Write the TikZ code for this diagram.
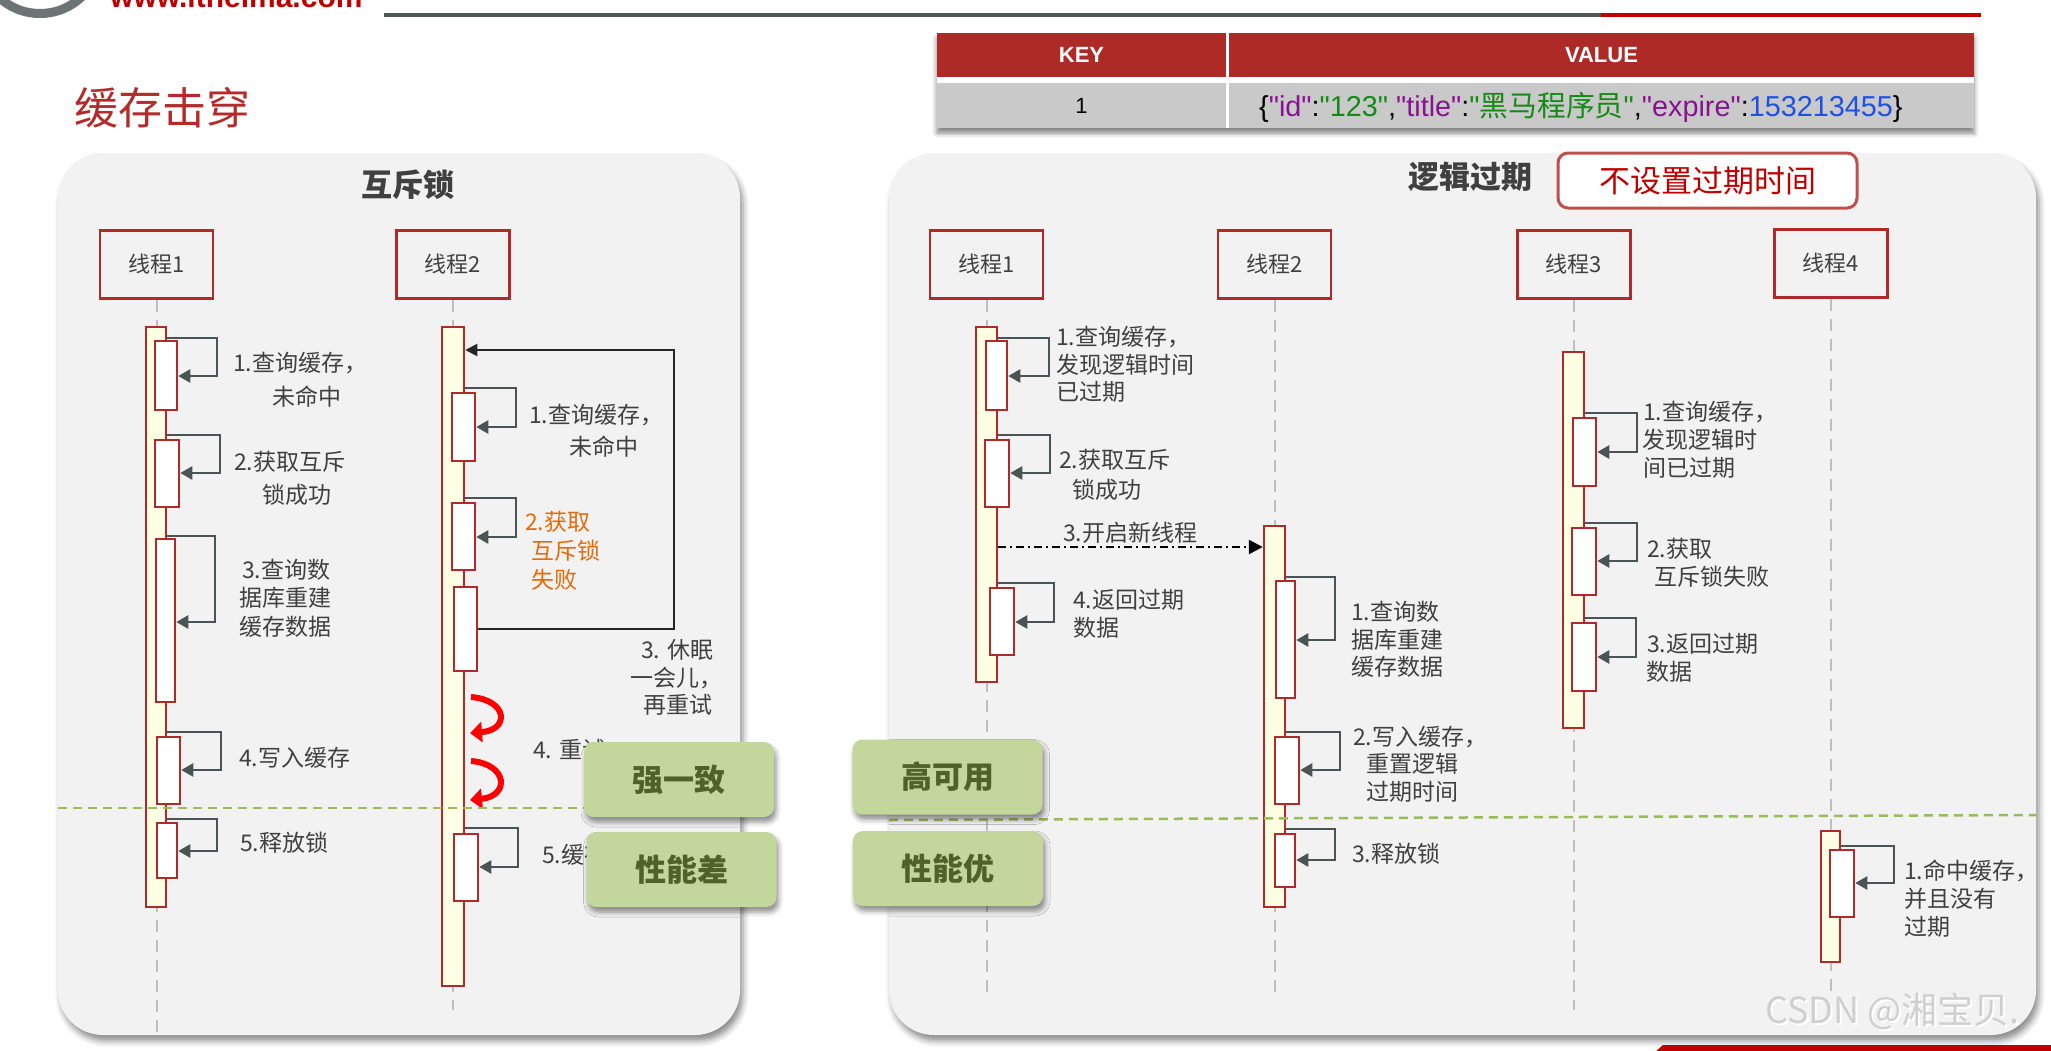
\documentclass[tikz,border=0pt]{standalone}
\usepackage{fontspec}
\setmainfont{Liberation Sans}
\newfontfamily\jsfont{Liberation Sans}[Ligatures=TeXOff]
\newfontfamily\cjk{Noto Sans CJK SC}
\usetikzlibrary{arrows.meta,fit,shadows.blur}
\definecolor{panelbg}{HTML}{F2F2F2}
\definecolor{redb}{HTML}{B02A2A}
\definecolor{actfill}{HTML}{FFFFE3}
\definecolor{arrgray}{HTML}{4A5455}
\definecolor{txt}{HTML}{404040}
\definecolor{lifegray}{HTML}{BFBFBF}
\definecolor{gdash}{HTML}{9BBB59}
\definecolor{gfill}{HTML}{C3D69B}
\definecolor{gtext}{HTML}{4F6228}
\definecolor{orangetxt}{HTML}{E36C09}
\definecolor{titlered}{HTML}{B32B2B}
\definecolor{hdrred}{HTML}{AD2A27}
\definecolor{rowgray}{HTML}{C9C9C9}
\definecolor{jpurple}{HTML}{881391}
\definecolor{jgreen}{HTML}{168A16}
\definecolor{jblue}{HTML}{1F50E6}
\definecolor{darkred}{HTML}{C00000}
\definecolor{boxred}{HTML}{C0504D}
\definecolor{linegray}{HTML}{505654}
\definecolor{logogray}{HTML}{6E7373}
\definecolor{wmgray}{HTML}{CFCFCF}
\tikzset{
 lbl/.style={inner sep=0pt, anchor=west, text=txt, font=\cjk\fontsize{23}{28}\selectfont},
 olbl/.style={lbl, text=orangetxt},
 actor/.style={draw=redb, line width=2.5pt, minimum width=113pt, minimum height=68pt, inner sep=0pt, text=txt, font=\cjk\fontsize{22}{26}\selectfont},
 actbar/.style={draw=redb, fill=actfill, line width=2.5pt, inner sep=0pt},
 wbox/.style={draw=redb, fill=white, line width=2.5pt, inner sep=0pt},
 lifeline/.style={draw=lifegray, line width=2pt, dash pattern=on 12pt off 8pt},
 loopar/.style={draw=arrgray, line width=2.5pt, -{Triangle[length=12pt,width=13pt]}},
 fbar/.style={draw=black!85, line width=2pt, -{Triangle[length=12pt,width=12pt]}},
 dasharr/.style={draw=black, line width=2.5pt, dash pattern=on 8pt off 4pt on 2pt off 4pt, -{Triangle[length=14pt,width=14pt]}},
 gdashline/.style={draw=gdash, line width=2.5pt, dash pattern=on 9pt off 6pt},
 gbox/.style={fill=gfill, rounded corners=10pt, minimum width=190pt, minimum height=75pt, blur shadow={shadow xshift=2pt, shadow yshift=-5pt, shadow blur radius=5pt, shadow opacity=45}, text=gtext, font=\cjk\bfseries\fontsize{31}{36}\selectfont, inner sep=0pt},
 panel/.style={fill=panelbg, rounded corners=45pt, inner sep=0pt, blur shadow={shadow xshift=3pt, shadow yshift=-6pt, shadow blur radius=6pt, shadow opacity=45}},
 redarr/.style={draw=red, line width=6pt, -{Triangle[length=12pt,width=20pt]}},
 hdr/.style={fill=hdrred, inner sep=0pt, minimum height=44pt, text=white, font=\bfseries\fontsize{22}{22}\selectfont},
 rowc/.style={fill=rowgray, inner sep=0pt, minimum height=45pt, text=black, font=\fontsize{22}{22}\selectfont},
 ptitle/.style={inner sep=0pt, text=txt, font=\cjk\bfseries\fontsize{31}{31}\selectfont},
}
\newcommand{\mylab}[4]{\node[lbl] (#1) at (#2,#3) {#4};}
\newcommand{\myolab}[4]{\node[olbl] (#1) at (#2,#3) {#4};}
\newcommand{\mybar}[5]{\node[actbar, fit={(#2,#3) (#4,#5)}] (#1) {};}
\newcommand{\mywb}[5]{\node[wbox, fit={(#2,#3) (#4,#5)}] (#1) {};}
\newcommand{\myloop}[5]{\draw[loopar] (#1.east |- 0,#3) -| (#4,#5) -- (#2.east |- 0,#5);}
\begin{document}
\begin{tikzpicture}[x=1pt,y=-1pt]
\useasboundingbox (0,0) rectangle (2051,1050);
% page header
\draw[logogray, line width=9pt] (40,-47) circle (60.5);
\node[anchor=base west, inner sep=0pt, text=darkred, font=\bfseries\fontsize{30}{30}\selectfont] (site) at (110,7) {www.itheima.com};
\draw[linegray, line width=4pt] (384,15) -- (1601,15);
\draw[darkred, line width=4pt] (1601,15) -- (1981,15);
\fill[darkred] (1655,1052) -- (1663,1045) -- (2051,1045) -- (2051,1052) -- cycle;
% table
\node[fill=white, inner sep=0pt, fit={(937,33) (1974,128)}, blur shadow={shadow xshift=0pt, shadow yshift=-5pt, shadow blur radius=5pt, shadow opacity=50}] (tbl) {};
\node[hdr, minimum width=289pt] (kh) at (1081.5,55) {KEY};
\node[hdr, minimum width=745pt] (vh) at (1601.5,55) {VALUE};
\node[rowc, minimum width=289pt] (kc) at (1081.5,105.5) {1};
\node[rowc, minimum width=745pt] (vc) at (1601.5,105.5) {};
\node[anchor=west, inner sep=0pt, font=\jsfont\fontsize{28.8}{28.8}\selectfont] (val) at (1259,107) {\{\textcolor{jpurple}{"id"}:\textcolor{jgreen}{"123"},\textcolor{jpurple}{"title"}:\textcolor{jgreen}{"{\cjk 黑马程序员}"},\textcolor{jpurple}{"expire"}:\textcolor{jblue}{153213455}\}};
% title
\node[anchor=west, inner sep=0pt, text=titlered, font=\cjk\fontsize{44}{44}\selectfont] (title) at (74,108) {缓存击穿};
% panels
\node[panel, fit={(58,153) (740,1035)}] (LP) {};
\node[panel, fit={(889,153) (2036,1035)}] (RP) {};
\node[ptitle] (lpt) at (408,185) {互斥锁};
\node[ptitle] (rpt) at (1470,177) {逻辑过期};
\node[draw=boxred, line width=3pt, fill=white, rounded corners=10pt, minimum width=299pt, minimum height=55pt, inner sep=0pt, text=darkred, font=\cjk\fontsize{31}{31}\selectfont] (nottl) at (1707.5,180.5) {不设置过期时间};
% actors
\node[actor] (A1) at (156.5,264.5) {线程1};
\node[actor] (A2) at (453,264.5) {线程2};
\node[actor] (C1) at (986.5,264.5) {线程1};
\node[actor] (C2) at (1274.5,264.5) {线程2};
\node[actor] (C3) at (1574,264.5) {线程3};
\node[actor] (C4) at (1831,263.5) {线程4};
% lifelines
\draw[lifeline] (A1.south) -- (A1.south |- 0,1033);
\draw[lifeline] (A2.south) -- (A2.south |- 0,1010);
\draw[lifeline] (C1.south) -- (C1.south |- 0,993);
\draw[lifeline] (C2.south) -- (C2.south |- 0,993);
\draw[lifeline] (C3.south) -- (C3.south |- 0,1010);
\draw[lifeline] (C4.south) -- (C4.south |- 0,993);
% ---------- left thread 1
\mybar{B1}{146}{327}{166}{907}
\mywb{W11}{155}{341}{177}{410}
\mywb{W12}{155}{440}{179}{507}
\mywb{W13}{156}{539}{175}{702}
\mywb{W14}{157}{737}{180}{804}
\mywb{W15}{157}{823}{177}{878}
\myloop{B1}{W11}{338}{217}{376}
\myloop{B1}{W12}{435}{220}{473}
\myloop{B1}{W13}{536}{215}{622}
\myloop{B1}{W14}{732}{221}{770}
\myloop{B1}{W15}{819}{217}{851}
\mylab{la1}{233}{363}{1.查询缓存，}
\mylab{la2}{272}{397}{未命中}
\mylab{lb1}{234}{462}{2.获取互斥}
\mylab{lb2}{262}{495}{锁成功}
\mylab{lc1}{242}{570}{3.查询数}
\mylab{lc2}{239}{598}{据库重建}
\mylab{lc3}{239}{627}{缓存数据}
\mylab{ld1}{239}{758}{4.写入缓存}
\mylab{le1}{240}{843}{5.释放锁}
% ---------- left thread 2
\mybar{B2}{442}{327}{464}{986}
\mywb{W21}{452}{393}{475}{461}
\mywb{W22}{452}{503}{475}{570}
\mywb{W23}{454}{587}{477}{671}
\mywb{W24}{454}{834}{478}{901}
\myloop{B2}{W21}{388}{516}{427}
\myloop{B2}{W22}{498}{516}{537}
\myloop{B2}{W24}{828}{518}{867}
\draw[fbar] (W23.east |- 0,629) -- (674,629) -- (674,350) -- (B2.east |- 0,350);
\draw[redarr] (471,697) .. controls (508,700) and (510,730) .. (470,733);
\draw[redarr] (471,761) .. controls (508,764) and (510,796) .. (470,800);
\mylab{ma1}{529}{415}{1.查询缓存，}
\mylab{ma2}{569}{447}{未命中}
\myolab{mb1}{525}{522}{2.获取}
\myolab{mb2}{531}{551}{互斥锁}
\myolab{mb3}{531}{580}{失败}
\mylab{mc1}{641}{650}{3. 休眠}
\mylab{mc2}{630}{678}{一会儿，}
\mylab{mc3}{643}{705}{再重试}
\mylab{md1}{533}{750}{4. 重试}
\mylab{me1}{542}{855}{5.缓存命中}
% ---------- right thread 1
\mybar{RB1}{976}{327}{997}{682}
\mywb{R11}{986}{341}{1007}{410}
\mywb{R12}{985}{440}{1009}{507}
\mywb{R13}{990}{588}{1014}{655}
\myloop{RB1}{R11}{338}{1049}{376}
\myloop{RB1}{R12}{435}{1050}{473}
\myloop{RB1}{R13}{583}{1054}{622}
\mylab{ra1}{1056}{337}{1.查询缓存，}
\mylab{ra2}{1056}{365}{发现逻辑时间}
\mylab{ra3}{1056}{392}{已过期}
\mylab{rb1}{1059}{460}{2.获取互斥}
\mylab{rb2}{1072}{490}{锁成功}
\mylab{rc1}{1063}{533}{3.开启新线程}
\mylab{rd1}{1073}{600}{4.返回过期}
\mylab{rd2}{1073}{628}{数据}
% ---------- right thread 2
\mybar{RB2}{1264}{526}{1285}{907}
\mywb{R21}{1276}{581}{1295}{698}
\mywb{R22}{1275}{737}{1299}{804}
\mywb{R23}{1275}{834}{1295}{887}
\myloop{RB2}{R21}{577}{1335}{640}
\myloop{RB2}{R22}{732}{1340}{770}
\myloop{RB2}{R23}{829}{1335}{860}
\draw[dasharr] (RB1.east |- 0,547) -- (RB2.west |- 0,547);
\mylab{sa1}{1351}{612}{1.查询数}
\mylab{sa2}{1351}{640}{据库重建}
\mylab{sa3}{1351}{667}{缓存数据}
\mylab{sb1}{1353}{737}{2.写入缓存，}
\mylab{sb2}{1366}{764}{重置逻辑}
\mylab{sb3}{1366}{792}{过期时间}
\mylab{sc1}{1352}{854}{3.释放锁}
% ---------- right thread 3
\mybar{RB3}{1563}{352}{1584}{728}
\mywb{R31}{1573}{418}{1596}{486}
\mywb{R32}{1572}{528}{1596}{595}
\mywb{R33}{1572}{623}{1596}{691}
\myloop{RB3}{R31}{413}{1637}{452}
\myloop{RB3}{R32}{523}{1637}{561}
\myloop{RB3}{R33}{618}{1636}{657}
\mylab{ta1}{1643}{412}{1.查询缓存，}
\mylab{ta2}{1642}{440}{发现逻辑时}
\mylab{ta3}{1643}{468}{间已过期}
\mylab{tb1}{1647}{549}{2.获取}
\mylab{tb2}{1654}{577}{互斥锁失败}
\mylab{tc1}{1647}{644}{3.返回过期}
\mylab{tc2}{1646}{672}{数据}
% ---------- right thread 4
\mybar{RB4}{1821}{831}{1840}{962}
\mywb{R41}{1830}{850}{1854}{917}
\myloop{RB4}{R41}{846}{1894}{883}
\mylab{ua1}{1904}{871}{1.命中缓存，}
\mylab{ua2}{1904}{899}{并且没有}
\mylab{ua3}{1904}{927}{过期}
% green dashed separators
\draw[gdashline] (LP.west |- 0,808) -- (584,808);
\draw[gdashline] (RP.west |- 0,820) -- (RP.east |- 0,815);
% green boxes
\node[gbox] (g1) at (679,779.5) {强一致};
\node[gbox] (g2) at (681.5,869.5) {性能差};
\node[gbox] (g3) at (947.5,777) {高可用};
\node[gbox] (g4) at (948,868.5) {性能优};
% watermark
\node[anchor=west, inner sep=0pt, text=white, font=\cjk\fontsize{36}{36}\selectfont] (wm0) at (1767,1013) {CSDN @湘宝贝.};
\node[anchor=west, inner sep=0pt, text=wmgray, font=\cjk\fontsize{36}{36}\selectfont] (wm) at (1765,1011) {CSDN @湘宝贝.};
\end{tikzpicture}
\end{document}
